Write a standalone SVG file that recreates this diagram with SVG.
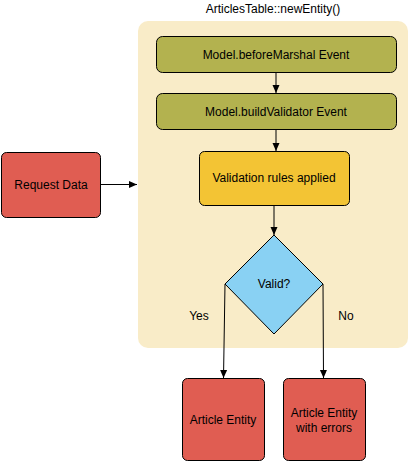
<svg xmlns="http://www.w3.org/2000/svg" width="409" height="462" viewBox="0 0 409 462">
<defs>
<marker id="ah" markerWidth="10" markerHeight="10" refX="9" refY="5" orient="auto" markerUnits="userSpaceOnUse"><path d="M1,1.5 L9,5 L1,8.5 Z" fill="#000"/></marker>
<style>
text{font-family:"Liberation Sans",Arial,sans-serif;font-size:12px;fill:#000;text-anchor:middle}
.olive{fill:#b3b24f;stroke:#000;stroke-width:1}
.red{fill:#e05d52;stroke:#000;stroke-width:1}
.yel{fill:#f3c434;stroke:#000;stroke-width:1}
.blue{fill:#89d1f3;stroke:#000;stroke-width:1}
.conn{fill:none;stroke:#000;stroke-width:1;marker-end:url(#ah)}
</style>
</defs>
<rect width="409" height="462" fill="#fff"/>
<g id="container">
<rect x="138" y="21" width="270" height="327" rx="10" fill="#f9ecc8"/>
<text x="273" y="13">ArticlesTable::newEntity()</text>
</g>
<g id="beforeMarshal"><rect class="olive" x="156.5" y="36.5" width="240" height="36" rx="6"/><text x="276" y="58.5">Model.beforeMarshal Event</text></g>
<g id="buildValidator"><rect class="olive" x="156.5" y="93.5" width="240" height="36" rx="6"/><text x="276" y="115.5">Model.buildValidator Event</text></g>
<g id="validation"><rect class="yel" x="199.5" y="151.5" width="150" height="54" rx="5"/><text x="274" y="182">Validation rules applied</text></g>
<g id="valid"><polygon class="blue" points="274,235 323,284 274,334 225,284"/><text x="274" y="288">Valid?</text></g>
<g id="request"><rect class="red" x="1.5" y="152.5" width="99" height="65" rx="5"/><text x="51" y="189">Request Data</text></g>
<g id="article"><rect class="red" x="182.5" y="378.5" width="82" height="82" rx="5"/><text x="223" y="424">Article Entity</text></g>
<g id="articleErrors"><rect class="red" x="283.5" y="378.5" width="82" height="82" rx="5"/><text x="324" y="417">Article Entity</text><text x="324" y="432">with errors</text></g>
<g id="connectors">
<line class="conn" x1="276" y1="73" x2="276" y2="93"/>
<line class="conn" x1="276" y1="130" x2="276" y2="151"/>
<line class="conn" x1="274" y1="206" x2="274" y2="235"/>
<line class="conn" x1="101" y1="184.5" x2="137" y2="184.5"/>
<line class="conn" x1="225" y1="284" x2="223.5" y2="378"/>
<line class="conn" x1="323" y1="284" x2="323.5" y2="378"/>
<text x="199" y="320">Yes</text>
<text x="346" y="320">No</text>
</g>
</svg>
